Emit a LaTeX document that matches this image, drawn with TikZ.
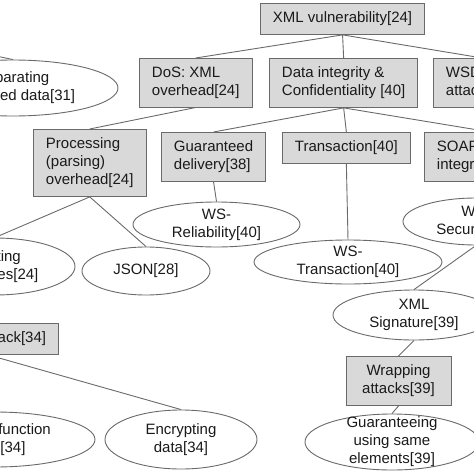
\documentclass[tikz,border=0pt]{standalone}
\usepackage{fontspec}
\setmainfont{Liberation Sans}
\usetikzlibrary{shapes.geometric}
\definecolor{boxfill}{HTML}{D9D9D9}
\definecolor{edgecol}{HTML}{6A6A6A}
\definecolor{txtcol}{HTML}{1A1A1A}
\tikzset{
  base/.style={font=\fontsize{15}{18}\selectfont, text=txtcol, line width=0.9pt},
  gbox/.style={base, draw=edgecol, fill=boxfill, rectangle, align=left,
    inner xsep=12.5pt, inner ysep=8.5pt, anchor=north west},
  cbox/.style={base, draw=edgecol, fill=boxfill, rectangle, align=center,
    inner xsep=12.5pt, inner ysep=8.5pt},
  oval/.style={base, draw=edgecol, fill=white, ellipse, align=center,
    inner xsep=0pt, inner ysep=-14pt},
  link/.style={draw=edgecol, line width=0.9pt}
}
\begin{document}
\begin{tikzpicture}[x=1pt,y=-1pt]
\useasboundingbox (0,0) rectangle (474,474);
\clip (0,0) rectangle (474,474);
% boxes
\node[gbox] (xmlv) at (260,3) {XML vulnerability[24]};
\node[gbox] (dos) at (139,58) {DoS: XML\\overhead[24]};
\node[gbox] (dint) at (269,58) {Data integrity \&\\Confidentiality [40]};
\node[gbox] (wsd) at (433,58) {WSDL\\attacks[40]};
\node[gbox] (proc) at (33,129) {Processing\\(parsing)\\overhead[24]};
\node[gbox] (guar) at (161,132) {Guaranteed\\delivery[38]};
\node[gbox] (trans) at (282,132) {Transaction[40]};
\node[gbox] (soap) at (424,132) {SOAP message\\integrity[40]};
\node[gbox, anchor=north east] (replay) at (59,323) {Replay attack[34]};
\node[cbox, minimum width=105pt, minimum height=48pt] (wrap) at (398.5,381) {Wrapping\\attacks[39]};
% ellipses
\node[oval, minimum width=210pt, minimum height=56pt] (sep) at (13,88) {Separating\\encrypted data[31]};
\node[oval, minimum width=167pt, minimum height=45pt] (wsrel) at (216.5,224.5) {WS-\\Reliability[40]};
\node[oval, minimum width=188pt, minimum height=44pt] (wstrans) at (348,262) {WS-\\Transaction[40]};
\node[oval, minimum width=146pt, minimum height=47pt] (wssec) at (476,221.5) {WS-\\Security[40]};
\node[oval, minimum width=160pt, minimum height=57pt] (limit) at (-5,266.5) {Limiting\\attributes[24]};
\node[oval, minimum width=128pt, minimum height=48pt] (json) at (146,271) {JSON[28]};
\node[oval, minimum width=200pt, minimum height=55pt] (hash) at (-5,439.5) {Hashing function\\value[34]};
\node[oval, minimum width=152pt, minimum height=59pt] (encr) at (181,439.5) {Encrypting\\data[34]};
\node[oval, minimum width=162pt, minimum height=50pt] (xmlsig) at (414,315) {XML\\Signature[39]};
\node[oval, minimum width=174pt, minimum height=56pt] (guaran) at (392,442) {Guaranteeing\\using same\\elements[39]};
\coordinate (offtl) at (-120,32);
% connectors
\draw[link] (xmlv.south) -- (dos.north);
\draw[link] (xmlv.south) -- (dint.north);
\draw[link] (xmlv.south) -- (wsd.north);
\draw[link] (dos.south) -- (proc.north);
\draw[link] (dint.south) -- (guar.north);
\draw[link] (dint.south) -- (trans.north);
\draw[link] (dint.south) -- (soap.north);
\draw[link] (guar.south) -- (wsrel.north);
\draw[link] (trans.south) -- (wstrans.north);
\draw[link] (soap.south) -- (wssec.north);
\draw[link] (wssec.south) -- (xmlsig.north);
\draw[link] (xmlsig.south) -- (wrap.north);
\draw[link] (wrap.south) -- (guaran.north);
\draw[link] (proc.south) -- (limit.north);
\draw[link] (proc.south) -- (json.north);
\draw[link] (replay.south) -- (hash.north);
\draw[link] (replay.south) -- (encr.north);
\draw[link] (offtl) -- (sep.north);
\end{tikzpicture}
\end{document}
